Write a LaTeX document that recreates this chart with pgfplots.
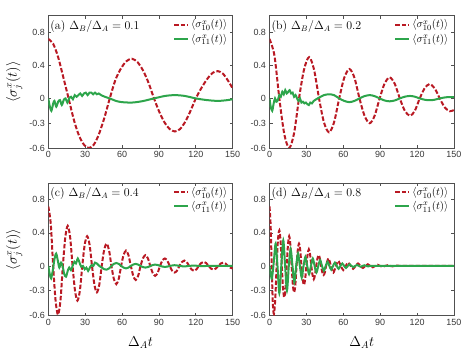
\documentclass[border=0pt]{standalone}
\usepackage{pgfplots}
\pgfplotsset{compat=1.18}
\usepackage{fontspec}
\newfontfamily\arial{Liberation Sans}
\definecolor{myred}{RGB}{185,25,35}
\definecolor{mygreen}{RGB}{45,165,75}
\definecolor{axgray}{RGB}{80,80,80}
\definecolor{tickgray}{RGB}{55,55,55}
\pgfplotsset{
  panel/.style={
    scale only axis, width=184.4bp, height=132.2bp,
    xmin=0, xmax=150, ymin=-0.6, ymax=1.0,
    xtick={0,30,60,90,120,150}, xticklabels={0,30,60,90,120,150},
    ytick={-0.6,-0.3,0,0.4,0.8}, yticklabels={-0.6,-0.3,0,0.4,0.8},
    tick align=inside, major tick length=3bp,
    axis line style={axgray, line width=0.7bp},
    every tick/.style={axgray, line width=0.7bp},
    ticklabel style={font=\arial\fontsize{9}{10}\selectfont, text=tickgray},
    legend style={at={(rel axis cs:0.985,0.99)}, anchor=north east, draw=none, fill=none,
      font=\fontsize{11}{12}\selectfont, inner sep=0.5bp, row sep=0.5bp,
      cells={anchor=west}},
    legend image code/.code={\draw[#1] (0bp,0bp) -- (14bp,0bp);},
    label style={font=\fontsize{14.5}{16}\selectfont},
  },
  redline/.style={myred, line width=2bp, dash pattern=on 4.5bp off 2bp, smooth, no marks},
  greenline/.style={mygreen, line width=2bp, smooth, no marks},
}
\newcommand{\paneltitle}[1]{\node[anchor=north west, inner sep=1bp, font=\fontsize{12}{13}\selectfont] at (rel axis cs:0.005,0.975) {#1};}
\begin{document}
\begin{tikzpicture}
\path[use as bounding box] (0,0) rectangle (474bp,355bp);

% (a)
\begin{axis}[panel, at={(48.3bp,207bp)}, anchor=south west,
  ylabel={$\langle\sigma_j^x(t)\rangle$},
  ylabel style={at={(axis description cs:-0.185,0.5)}, anchor=center}]
\addplot[redline] coordinates {
(0,0.72)(4,0.66)(8,0.50)(12,0.27)(16.5,0.0)(21,-0.27)(25,-0.45)(29,-0.56)(33,-0.60)(37,-0.56)(41,-0.44)(45.5,-0.24)(50,0.0)(54.5,0.22)(59,0.36)(63.5,0.45)(68,0.48)(72.5,0.44)(77,0.34)(81.5,0.19)(86,0.0)(90.2,-0.16)(94.5,-0.29)(98.7,-0.37)(103,-0.40)(107.2,-0.37)(111.5,-0.28)(115.7,-0.15)(120,0.0)(124.7,0.13)(129.5,0.24)(133.7,0.31)(138,0.33)(142,0.3)(146,0.22)(150,0.12)};
\addlegendentry{$\langle\sigma^x_{10}(t)\rangle$}
\addplot[greenline] coordinates {
(0,0)(1,-0.08)(2.5,-0.15)(4,-0.06)(5,-0.03)(6.5,-0.10)(8,-0.04)(9.5,-0.02)(11,-0.08)(12.5,-0.02)(14,0.0)(15.5,-0.05)(17,0.0)(18.5,0.02)(20,-0.01)(21.5,0.04)(23,0.02)(24.5,0.04)(26,0.06)(27.5,0.03)(29,0.06)(30.5,0.07)(32,0.04)(33.5,0.07)(35,0.07)(36.5,0.05)(38,0.07)(39.5,0.05)(41,0.06)(43,0.04)(46,0.02)(50,0.0)(55,-0.03)(60,-0.045)(68,-0.05)(76,-0.035)(86,0.0)(95,0.03)(103,0.04)(111,0.03)(120,0.0)(129,-0.02)(138,-0.03)(146,-0.02)(150,-0.01)};
\addlegendentry{$\langle\sigma^x_{11}(t)\rangle$}
\paneltitle{(a) $\Delta_B/\Delta_A=0.1$}
\end{axis}

% (b)
\begin{axis}[panel, at={(269.5bp,207bp)}, anchor=south west]
\addplot[redline] coordinates {
(0,0.72)(4,0.52)(8,0.0)(12,-0.43)(16,-0.60)(20,-0.42)(24,0.0)(28.1,0.35)(32.2,0.50)(36.2,0.35)(40.3,0.0)(44.3,-0.29)(48.4,-0.41)(52.5,-0.29)(56.7,0.0)(60.8,0.25)(65,0.356)(69.1,0.25)(73.2,0.0)(77.3,-0.21)(81.5,-0.30)(85.5,-0.21)(89.6,0.0)(93.6,0.18)(97.7,0.255)(101.8,0.18)(106,0.0)(110.1,-0.15)(114.3,-0.21)(118.2,-0.15)(122.2,0.0)(126.2,0.123)(130.2,0.174)(134.3,0.123)(138.5,0.0)(142.6,-0.11)(146.7,-0.155)(150,-0.14)};
\addlegendentry{$\langle\sigma^x_{10}(t)\rangle$}
\addplot[greenline] coordinates {
(0,0)(1,-0.1)(2.2,-0.15)(3.4,-0.06)(4.5,0.0)(5.6,-0.04)(6.8,-0.02)(8,0.04)(9.2,0.02)(10.4,0.08)(11.6,0.05)(12.8,0.10)(14,0.06)(15.2,0.08)(16.4,0.10)(17.6,0.06)(18.8,0.07)(20,0.02)(21.2,0.04)(22.4,0.0)(23.6,-0.03)(24.8,0.0)(26,-0.05)(27.2,-0.04)(28.4,-0.06)(29.6,-0.05)(30.8,-0.07)(32,-0.08)(33.2,-0.05)(34.5,-0.06)(36,-0.03)(38,-0.01)(40.3,0.01)(44.3,0.04)(48.4,0.05)(52.5,0.04)(56.7,0.0)(60.8,-0.03)(65,-0.045)(69.1,-0.03)(73.2,0.0)(77.3,0.028)(81.5,0.04)(85.5,0.028)(89.6,0.0)(93.6,-0.025)(97.7,-0.035)(101.8,-0.025)(106,0.0)(110.1,0.021)(114.3,0.03)(118.2,0.021)(122.2,0.0)(126.2,-0.016)(130.2,-0.022)(134.3,-0.016)(138.5,0.0)(142.6,0.012)(146.7,0.017)(150,0.015)};
\addlegendentry{$\langle\sigma^x_{11}(t)\rangle$}
\paneltitle{(b) $\Delta_B/\Delta_A=0.2$}
\end{axis}

% (c)
\begin{axis}[panel, at={(48.3bp,39.5bp)}, anchor=south west,
  ylabel={$\langle\sigma_j^x(t)\rangle$},
  ylabel style={at={(axis description cs:-0.185,0.5)}, anchor=center},
  xlabel={$\Delta_A t$},
  xlabel style={at={(axis description cs:0.5,-0.205)}, anchor=center}]
\addplot[redline] coordinates {
(0,0.72)(2,0.51)(3.95,0)(5.9,-0.417)(7.9,-0.59)(9.9,-0.417)(11.85,0)(13.8,0.343)(15.8,0.485)(17.8,0.343)(19.75,0)(21.7,-0.297)(23.7,-0.42)(25.7,-0.297)(27.65,0)(29.6,0.255)(31.6,0.36)(33.6,0.255)(35.55,0)(37.5,-0.226)(39.5,-0.32)(41.5,-0.226)(43.45,0)(45.4,0.191)(47.4,0.27)(49.4,0.191)(51.35,0)(53.3,-0.156)(55.3,-0.22)(57.3,-0.156)(59.25,0)(61.2,0.131)(63.2,0.185)(65.2,0.131)(67.15,0)(69.1,-0.12)(71.1,-0.17)(73.1,-0.12)(75.05,0)(77,0.092)(79,0.13)(81,0.092)(82.95,0)(84.9,-0.085)(86.9,-0.12)(88.9,-0.085)(90.85,0)(92.8,0.064)(94.8,0.09)(96.8,0.064)(98.75,0)(100.7,-0.057)(102.7,-0.08)(104.7,-0.057)(106.65,0)(108.6,0.046)(110.6,0.065)(112.6,0.046)(114.55,0)(116.5,-0.042)(118.5,-0.06)(120.5,-0.042)(122.45,0)(124.4,0.035)(126.4,0.05)(128.4,0.035)(130.35,0)(132.3,-0.032)(134.3,-0.045)(136.3,-0.032)(138.25,0)(140.2,0.028)(142.2,0.04)(144.2,0.028)(146.15,0)(148.1,-0.021)(150,-0.03)};
\addlegendentry{$\langle\sigma^x_{10}(t)\rangle$}
\addplot[greenline] coordinates {
(0,0)(1.2,-0.1)(2.3,-0.15)(3.6,-0.06)(5,0.08)(6.4,0.15)(7.8,0.06)(9,-0.02)(10.4,0.04)(11.6,0.0)(13,-0.1)(14.4,-0.13)(15.8,-0.06)(17,-0.02)(18.4,-0.05)(19.8,0.0)(21.2,0.05)(22.5,0.03)(24,0.09)(25.4,0.04)(26.8,-0.01)(28.2,0.0)(29.6,-0.04)(31,-0.02)(32.4,-0.06)(33.8,-0.02)(35.2,0.01)(36.6,0.0)(38,0.04)(39.5,0.03)(41.5,0.0)(43.5,-0.02)(45.5,-0.04)(47.4,-0.045)(49.4,-0.03)(51.4,0.0)(53.3,0.025)(55.3,0.035)(57.3,0.025)(59.3,0.0)(61.2,-0.02)(63.2,-0.03)(65.2,-0.02)(67.2,0)(69.1,0.017)(71.1,0.025)(73,0.017)(75,0)(77,-0.014)(79,-0.02)(81,-0.014)(83,0)(85,0.011)(86.9,0.016)(89,0.011)(91,0)(93,-0.008)(94.8,-0.012)(97,-0.008)(99,0)(101,0.006)(102.7,0.009)(105,0.005)(107,0)(110.6,-0.006)(114.5,0)(118.5,0.004)(122.5,0)(126.4,-0.003)(130,0)(150,0)};
\addlegendentry{$\langle\sigma^x_{11}(t)\rangle$}
\paneltitle{(c) $\Delta_B/\Delta_A=0.4$}
\end{axis}

% (d)
\begin{axis}[panel, at={(269.5bp,39.5bp)}, anchor=south west,
  xlabel={$\Delta_A t$},
  xlabel style={at={(axis description cs:0.5,-0.205)}, anchor=center}]
\addplot[redline] coordinates {
(0,0.72)(0.9,0.5)(1.8,0)(2.7,-0.45)(3.6,-0.58)(4.7,-0.4)(5.8,0)(6.9,0.32)(8,0.43)(9,0.3)(10,0)(11,-0.27)(12,-0.38)(13,-0.27)(14,0)(15,0.25)(16,0.36)(17,0.25)(18,0)(19,-0.23)(20,-0.32)(21,-0.23)(22,0)(23,0.19)(24,0.27)(25,0.19)(26,0)(27,-0.16)(28,-0.23)(29,-0.16)(30,0)(31,0.14)(32,0.2)(33,0.14)(34,0)(35,-0.11)(36,-0.16)(37,-0.11)(38,0)(39,0.09)(40,0.13)(41,0.09)(42,0)(43,-0.08)(44,-0.11)(45,-0.08)(46,0)(48,0.09)(50,0)(52,-0.08)(54,0)(56,0.06)(58,0)(60,-0.05)(62,0)(64,0.04)(66,0)(68,-0.035)(70,0)(72,0.03)(74,0)(76,-0.025)(78,0)(80,0.02)(82,0)(84,-0.017)(86,0)(88,0.014)(90,0)(92,-0.01)(94,0)(96,0.008)(98,0)(100,-0.005)(102,0)(104,0.004)(106,0)(110,0)(150,0)};
\addlegendentry{$\langle\sigma^x_{10}(t)\rangle$}
\addplot[greenline] coordinates {
(0,0)(1,-0.1)(2,-0.15)(3.5,0.05)(5,0.27)(6.5,0.0)(8,-0.33)(9.6,0.0)(11.2,0.31)(12.7,0.0)(14.2,-0.3)(15.7,0.0)(17.2,0.2)(18.7,0.0)(20.2,-0.2)(21.7,0.0)(23.2,0.15)(24.7,0)(26.2,-0.14)(27.7,0)(29.2,0.11)(30.7,0)(32.2,-0.1)(33.7,0)(35.2,0.09)(36.7,0)(38.2,-0.08)(39.7,0)(41.2,0.07)(42.7,0)(44.2,-0.06)(45.7,0)(47.2,0.05)(48.7,0)(50.2,-0.045)(51.7,0)(53.2,0.04)(54.7,0)(56.2,-0.035)(57.7,0)(59.2,0.03)(60.7,0)(62.2,-0.025)(63.7,0)(65.2,0.02)(66.7,0)(68.2,-0.015)(69.7,0)(71.2,0.012)(72.7,0)(74.2,-0.01)(75.7,0)(77.2,0.008)(78.7,0)(80.2,-0.006)(82,0)(90,0)(150,0)};
\addlegendentry{$\langle\sigma^x_{11}(t)\rangle$}
\paneltitle{(d) $\Delta_B/\Delta_A=0.8$}
\end{axis}
\end{tikzpicture}
\end{document}
